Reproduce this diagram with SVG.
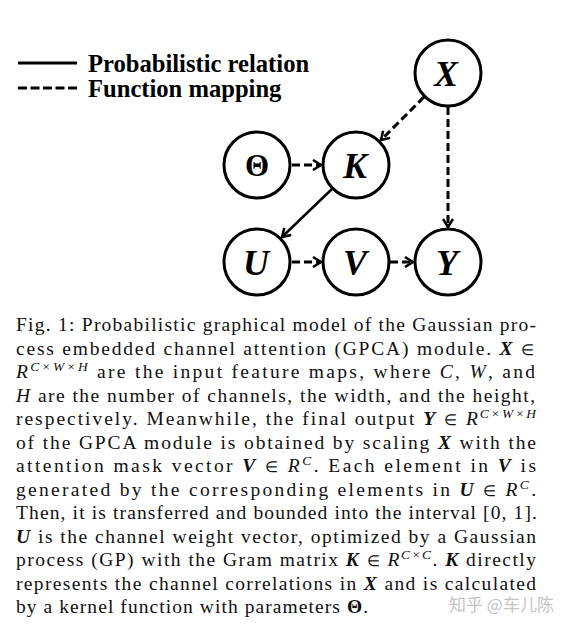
<svg xmlns="http://www.w3.org/2000/svg" width="567" height="629" viewBox="0 0 567 629">
<style>
.node circle{fill:#fff;stroke:#000;stroke-width:3}
.lbl{font-family:"Liberation Serif","Times New Roman",serif;font-weight:bold;font-style:italic;font-size:36px;text-anchor:middle;fill:#000}
.th{font-style:normal;font-size:31px}
.leg{font-family:"Liberation Serif","Times New Roman",serif;font-weight:bold;font-size:24.6px;fill:#000}
.solid{stroke:#000;stroke-width:2.5;fill:none}
.dash{stroke:#000;stroke-width:3;fill:none;stroke-dasharray:8,4}
.cap{font-family:"Liberation Serif","Times New Roman",serif;font-size:19.5px;fill:#111}
.bi{font-weight:bold;font-style:italic}
.it{font-style:italic}
.b{font-weight:bold}
.el{font-size:15px}
.sup{font-style:italic;font-size:13.5px}
.wm{font-family:"Noto Sans CJK SC","Noto Sans",sans-serif;font-size:17px;fill:#c4c4c4}
</style>
<defs>
<marker id="ah" viewBox="0 0 12 12" markerWidth="12" markerHeight="12" refX="10" refY="6" orient="auto" markerUnits="userSpaceOnUse">
<path d="M2,1 L10,6 L2,11" fill="none" stroke="#000" stroke-width="2.5"/>
</marker>
</defs>
<rect width="567" height="629" fill="#fff"/>
<g id="legend">
<line x1="18" y1="63" x2="77" y2="63" stroke="#000" stroke-width="3"/>
<line x1="18" y1="88" x2="77" y2="88" stroke="#000" stroke-width="3" stroke-dasharray="9,3.5"/>
<text class="leg" x="88" y="72">Probabilistic relation</text>
<text class="leg" x="88" y="97">Function mapping</text>
</g>
<g id="connectors">
<line class="dash" x1="424" y1="97" x2="381" y2="140" marker-end="url(#ah)"/>
<line class="dash" x1="448" y1="107" x2="448" y2="227" marker-end="url(#ah)"/>
<line class="dash" x1="292" y1="165" x2="321" y2="165" marker-end="url(#ah)"/>
<line class="solid" x1="332" y1="189" x2="282" y2="237" marker-end="url(#ah)"/>
<line class="dash" x1="292" y1="262" x2="321" y2="262" marker-end="url(#ah)"/>
<line class="dash" x1="390" y1="262" x2="413" y2="262" marker-end="url(#ah)"/>
</g>
<g id="node-X" class="node"><circle cx="448" cy="73" r="33"/><text class="lbl" x="446" y="86">X</text></g>
<g id="node-Theta" class="node"><circle cx="257" cy="165" r="33"/><text class="lbl th" x="257" y="176">Θ</text></g>
<g id="node-K" class="node"><circle cx="356" cy="165" r="33"/><text class="lbl" x="355" y="178">K</text></g>
<g id="node-U" class="node"><circle cx="257" cy="262" r="33"/><text class="lbl" x="256" y="275">U</text></g>
<g id="node-V" class="node"><circle cx="356" cy="262" r="33"/><text class="lbl" x="355" y="275">V</text></g>
<g id="node-Y" class="node"><circle cx="448" cy="262" r="33"/><text class="lbl" x="447" y="275">Y</text></g>
<g id="caption" class="cap">
<text x="16" y="331" textLength="520" lengthAdjust="spacing">Fig. 1: Probabilistic graphical model of the Gaussian pro-</text>
<text x="16" y="354.5" textLength="518" lengthAdjust="spacing">cess embedded channel attention (GPCA) module. <tspan class="bi">X</tspan> <tspan class="el">∈</tspan></text>
<text x="16" y="378" textLength="519" lengthAdjust="spacing"><tspan class="it">R</tspan><tspan class="sup" dy="-7">C×W×H</tspan><tspan dy="7"> are the input feature maps, where </tspan><tspan class="it">C</tspan>, <tspan class="it">W</tspan>, and</text>
<text x="16" y="401.5" textLength="519" lengthAdjust="spacing"><tspan class="it">H</tspan> are the number of channels, the width, and the height,</text>
<text x="16" y="425" textLength="520" lengthAdjust="spacing">respectively. Meanwhile, the final output <tspan class="bi">Y</tspan> <tspan class="el">∈</tspan> <tspan class="it">R</tspan><tspan class="sup" dy="-7">C×W×H</tspan></text>
<text x="16" y="448.5" textLength="520" lengthAdjust="spacing">of the GPCA module is obtained by scaling <tspan class="bi">X</tspan> with the</text>
<text x="16" y="472" textLength="520" lengthAdjust="spacing">attention mask vector <tspan class="bi">V</tspan> <tspan class="el">∈</tspan> <tspan class="it">R</tspan><tspan class="sup" dy="-7">C</tspan><tspan dy="7">. Each element in </tspan><tspan class="bi">V</tspan> is</text>
<text x="16" y="495.5" textLength="520" lengthAdjust="spacing">generated by the corresponding elements in <tspan class="bi">U</tspan> <tspan class="el">∈</tspan> <tspan class="it">R</tspan><tspan class="sup" dy="-7">C</tspan><tspan dy="7">.</tspan></text>
<text x="16" y="519" textLength="521" lengthAdjust="spacing">Then, it is transferred and bounded into the interval [0, 1].</text>
<text x="16" y="542.5" textLength="520" lengthAdjust="spacing"><tspan class="bi">U</tspan> is the channel weight vector, optimized by a Gaussian</text>
<text x="16" y="566" textLength="520" lengthAdjust="spacing">process (GP) with the Gram matrix <tspan class="bi">K</tspan> <tspan class="el">∈</tspan> <tspan class="it">R</tspan><tspan class="sup" dy="-7">C×C</tspan><tspan dy="7">. </tspan><tspan class="bi">K</tspan> directly</text>
<text x="16" y="589.5" textLength="520" lengthAdjust="spacing">represents the channel correlations in <tspan class="bi">X</tspan> and is calculated</text>
<text x="16" y="613" textLength="352" lengthAdjust="spacing">by a kernel function with parameters <tspan class="b">Θ</tspan>.</text>
</g>
<text class="wm" x="449" y="611">知乎 @车儿陈</text>
</svg>
